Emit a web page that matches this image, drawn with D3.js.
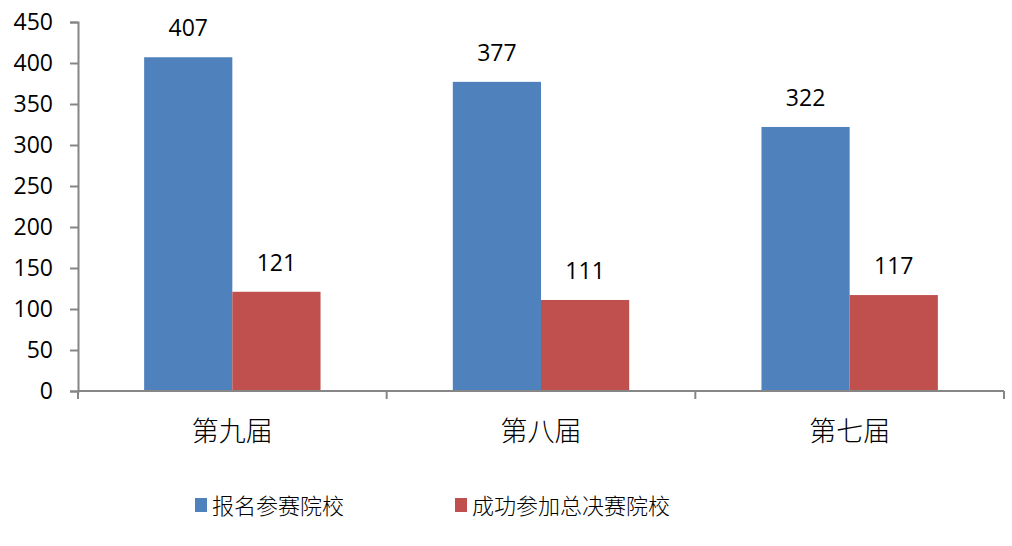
<!DOCTYPE html>
<html>
<head>
<meta charset="utf-8">
<script src="https://cdn.jsdelivr.net/npm/d3@7"></script>
<style>
  body { margin: 0; background: #fff; }
  text { font-family: "Open Sans", "Noto Sans", sans-serif; }
  .cjk { font-family: "Noto Sans CJK SC", sans-serif; font-weight: 300; }
</style>
</head>
<body>
<script>
var categories = ["第九届", "第八届", "第七届"];
var seriesNames = ["报名参赛院校", "成功参加总决赛院校"];
var registered = [407, 377, 322];
var finalists = [121, 111, 117];
var yTicks = [0, 50, 100, 150, 200, 250, 300, 350, 400, 450];
var colors = ["#4F81BD", "#C0504D"];

var margin = {top: 22, right: 8, bottom: 155, left: 78};
var width = 1012 - margin.left - margin.right,
    height = 546 - margin.top - margin.bottom;

var svg = d3.select("body").append("svg")
    .attr("width", 1012)
    .attr("height", 546)
    .append("g")
    .attr("transform", "translate(" + margin.left + "," + margin.top + ")");

var dataset = categories.map(function(c, i){
    return {cat: c, values: [registered[i], finalists[i]]};
});

var yScale = d3.scaleLinear().domain([0, 450]).range([height, 0]);
var x0 = d3.scaleBand().domain(categories).range([0, width]).padding(0);
var x1 = d3.scaleBand().domain([0, 1]).range([0, x0.bandwidth()])
    .paddingInner(0).paddingOuter(0.75);

// y axis
var yAxis = svg.append("g")
    .call(d3.axisLeft(yScale).tickValues(yTicks).tickSize(8).tickPadding(17));
yAxis.selectAll("path, line").attr("stroke", "#868686").attr("stroke-width", 2);
yAxis.selectAll("text").attr("font-size", 23).attr("fill", "#000")
    .style("font-family", "'Open Sans', sans-serif");

// bars
var groups = svg.selectAll(".grp")
    .data(dataset)
    .enter().append("g")
    .attr("transform", function(d){ return "translate(" + x0(d.cat) + ",0)"; });

groups.selectAll("rect")
    .data(function(d){ return d.values; })
    .enter().append("rect")
    .attr("x", function(d, i){ return x1(i); })
    .attr("y", function(d){ return yScale(d); })
    .attr("width", x1.bandwidth())
    .attr("height", function(d){ return height - yScale(d); })
    .attr("fill", function(d, i){ return colors[i]; });

groups.selectAll(".lbl")
    .data(function(d){ return d.values; })
    .enter().append("text")
    .attr("x", function(d, i){ return x1(i) + x1.bandwidth() / 2; })
    .attr("y", function(d){ return yScale(d) - 21; })
    .attr("text-anchor", "middle")
    .attr("font-size", 23)
    .attr("fill", "#000")
    .text(function(d){ return d; });

// x axis with ticks between categories
var xg = svg.append("g").attr("transform", "translate(0," + height + ")");
xg.append("line").attr("x1", 0).attr("x2", width)
    .attr("stroke", "#868686").attr("stroke-width", 2);
var bounds = categories.map(function(c){ return x0(c); }).concat([width]);
xg.selectAll(".tk").data(bounds).enter().append("line")
    .attr("x1", function(d){ return d; }).attr("x2", function(d){ return d; })
    .attr("y1", 0).attr("y2", 8)
    .attr("stroke", "#868686").attr("stroke-width", 2);
xg.selectAll(".cl").data(categories).enter().append("text")
    .attr("class", "cjk")
    .attr("x", function(d){ return x0(d) + x0.bandwidth() / 2; })
    .attr("y", 50)
    .attr("text-anchor", "middle")
    .attr("font-size", 27)
    .attr("fill", "#000")
    .text(function(d){ return d; });

// legend
var legendX = [195, 455];
var legend = d3.select("svg").selectAll(".lg")
    .data(seriesNames).enter().append("g")
    .attr("transform", function(d, i){ return "translate(" + legendX[i] + ",498)"; });
legend.append("rect").attr("width", 12).attr("height", 14)
    .attr("fill", function(d, i){ return colors[i]; });
legend.append("text").attr("class", "cjk")
    .attr("x", 17).attr("y", 16)
    .attr("font-size", 22).attr("fill", "#000")
    .text(function(d){ return d; });
</script>
</body>
</html>
